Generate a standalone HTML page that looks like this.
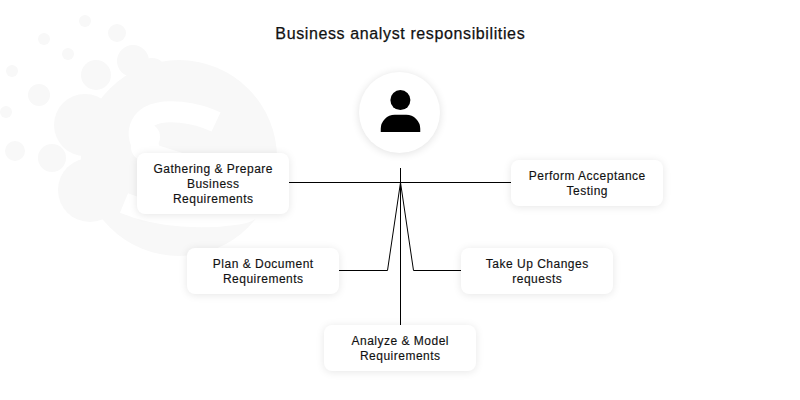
<!DOCTYPE html>
<html>
<head>
<meta charset="utf-8">
<style>
html,body{margin:0;padding:0;background:#fff;}
body{width:800px;height:400px;position:relative;overflow:hidden;font-family:"Liberation Sans",sans-serif;color:#111;}
#bg{position:absolute;left:0;top:0;}
h1{position:absolute;left:0;top:25px;width:800px;margin:0;text-align:center;font-size:16px;font-weight:normal;line-height:18px;color:#111;letter-spacing:0.62px;-webkit-text-stroke:0.25px #111;padding-left:0.6px;box-sizing:border-box;}
.box{position:absolute;width:152px;background:#fff;border-radius:8px;box-shadow:0 1px 8px rgba(0,0,0,0.10);font-size:12px;line-height:15px;text-align:center;box-sizing:border-box;padding:9px 0 7px 0.5px;color:#111;letter-spacing:0.5px;-webkit-text-stroke:0.15px #111;}
#lines{position:absolute;left:0;top:0;}
.avatar{position:absolute;left:359px;top:72px;width:81px;height:81px;border-radius:50%;background:#fff;box-shadow:0 1px 9px rgba(0,0,0,0.12);}
</style>
</head>
<body>
<svg id="bg" width="800" height="400" viewBox="0 0 800 400">
  <g fill="#f8f8f8">
    <circle cx="179" cy="158" r="98"/>
    <circle cx="85" cy="125" r="31"/>
    <circle cx="90" cy="190" r="32"/>
    <circle cx="133" cy="61" r="16"/>
    <circle cx="152" cy="73" r="15"/>
    <circle cx="85" cy="21" r="6"/>
    <circle cx="117" cy="33" r="9"/>
    <circle cx="44" cy="39" r="6"/>
    <circle cx="68" cy="54" r="6"/>
    <circle cx="12" cy="71" r="6"/>
    <circle cx="96" cy="75" r="15"/>
    <circle cx="39" cy="95" r="11"/>
    <circle cx="6" cy="112" r="6"/>
    <circle cx="15" cy="151" r="10"/>
    <circle cx="52" cy="158" r="14"/>
  </g>
  <path d="M216,122 C195,112 165,108 150,116 C134,125 136,146 154,155 L240,182 C264,190 262,211 238,214 C205,219 160,218 124,203" fill="none" stroke="#fff" stroke-width="21"/>
  <circle cx="146" cy="137" r="14" fill="#fff"/>
  <circle cx="145" cy="147" r="14" fill="#fff"/>
</svg>
<h1>Business analyst responsibilities</h1>
<svg id="lines" width="800" height="400" viewBox="0 0 800 400">
  <g stroke="#000" stroke-width="1" fill="none">
    <line x1="289" y1="182.5" x2="511" y2="182.5"/>
    <line x1="400.5" y1="168" x2="400.5" y2="325"/>
    <polyline points="339,270.5 387.5,270.5 400.5,182.5 413.5,270.5 461,270.5"/>
  </g>
</svg>
<div class="avatar"></div>
<svg style="position:absolute;left:0;top:0" width="800" height="400" viewBox="0 0 800 400">
  <circle cx="400.4" cy="100.1" r="10" fill="#000"/>
  <path d="M380.75,132 V128.8 A14,14 0 0 1 394.75,114.8 H406.25 A14,14 0 0 1 420.25,128.8 V132 Z" fill="#000"/>
</svg>
<div class="box" style="left:137px;top:153px;height:61px;">Gathering &amp; Prepare<br>Business<br>Requirements</div>
<div class="box" style="left:511px;top:160px;height:46px;">Perform Acceptance<br>Testing</div>
<div class="box" style="left:187px;top:248px;height:46px;">Plan &amp; Document<br>Requirements</div>
<div class="box" style="left:461px;top:248px;height:46px;">Take Up Changes<br>requests</div>
<div class="box" style="left:324px;top:325px;height:46px;">Analyze &amp; Model<br>Requirements</div>
</body>
</html>
